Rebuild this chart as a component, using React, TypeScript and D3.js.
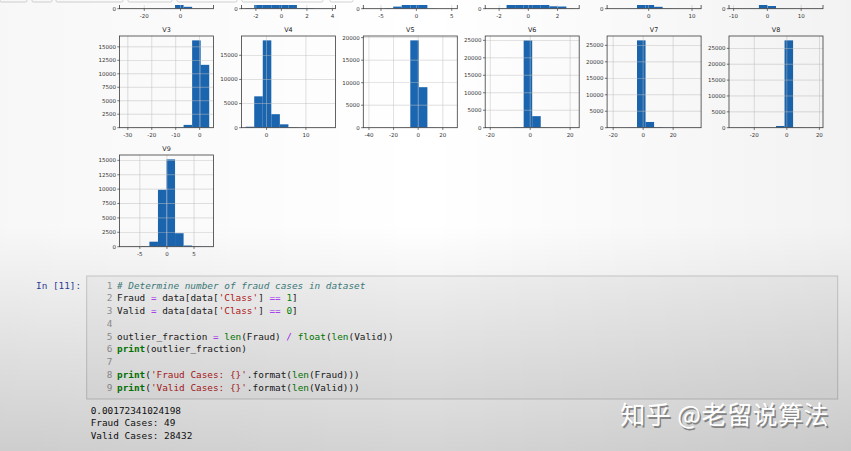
import React from 'react';
import * as d3 from 'd3';

// ---------- histogram data (pandas DataFrame.hist grid, partially visible) ----------
const histNames = ['V23', 'V24', 'V25', 'V26', 'V27', 'V28', 'V3', 'V4', 'V5', 'V6', 'V7', 'V8', 'V9'];
const histMin = [-31.3, -2.8, -6.9, -2.66, -8.6, -10.1, -31.7, -5.3, -41.1, -20.4, -21.2, -32.9, -7.96];
const histMax = [15.8, 3.9, 5.18, 3.19, 11.1, 15.2, 4.0, 16.4, 28.3, 22.4, 35.8, 19.6, 7.8];
const histCounts = [
  [1, 0, 2, 5, 10, 60, 27700, 600, 40, 13],
  [30, 3000, 5200, 5600, 6200, 5800, 40, 30, 8, 2],
  [2, 10, 60, 300, 7000, 12500, 8000, 30, 3, 1],
  [5, 40, 3000, 7000, 8000, 6000, 3500, 220, 200, 20],
  [2, 5, 30, 9000, 18500, 400, 40, 10, 3, 2],
  [3, 10, 80, 26000, 800, 60, 10, 3, 1, 1],
  [1, 2, 3, 5, 8, 15, 60, 520, 16200, 11660],
  [200, 6500, 18100, 2800, 700, 80, 20, 8, 3, 2],
  [1, 2, 3, 5, 30, 19400, 9000, 30, 8, 2],
  [2, 5, 15, 90, 24990, 3300, 60, 10, 4, 2],
  [3, 10, 50, 26520, 1740, 100, 20, 8, 3, 2],
  [2, 3, 5, 10, 30, 540, 27520, 60, 10, 3],
  [3, 20, 80, 870, 9890, 15170, 2340, 200, 60, 10],
];
const histXTicks = [
  [-20, 0], [-2, 0, 2, 4], [-5, 0, 5], [-2, 0, 2], [0, 10], [-10, 0, 10],
  [-30, -20, -10, 0], [0, 10], [-40, -20, 0, 20], [-20, 0, 20], [-20, 0, 20], [-20, 0, 20],
  [-5, 0, 5],
];
const histYTicks = [
  [0, 5000, 10000, 15000, 20000, 25000],
  [0, 2000, 4000, 6000],
  [0, 2500, 5000, 7500, 10000, 12500],
  [0, 2000, 4000, 6000, 8000],
  [0, 5000, 10000, 15000],
  [0, 5000, 10000, 15000, 20000, 25000],
  [0, 2500, 5000, 7500, 10000, 12500, 15000],
  [0, 5000, 10000, 15000],
  [0, 5000, 10000, 15000, 20000],
  [0, 5000, 10000, 15000, 20000, 25000],
  [0, 5000, 10000, 15000, 20000, 25000],
  [0, 5000, 10000, 15000, 20000, 25000],
  [0, 2500, 5000, 7500, 10000, 12500, 15000],
];

// ---------- notebook cell text ----------
const promptLabel = 'In [11]:';
const codeLines: [string, string][][] = [
  [['c', '# Determine number of fraud cases in dataset']],
  [['n', 'Fraud '], ['o', '='], ['n', ' data[data['], ['s', "'Class'"], ['n', '] '], ['o', '=='], ['n', ' '], ['m', '1'], ['n', ']']],
  [['n', 'Valid '], ['o', '='], ['n', ' data[data['], ['s', "'Class'"], ['n', '] '], ['o', '=='], ['n', ' '], ['m', '0'], ['n', ']']],
  [],
  [['n', 'outlier_fraction '], ['o', '='], ['n', ' '], ['b', 'len'], ['n', '(Fraud) '], ['o', '/'], ['n', ' '], ['b', 'float'], ['n', '('], ['b', 'len'], ['n', '(Valid))']],
  [['k', 'print'], ['n', '(outlier_fraction)']],
  [],
  [['k', 'print'], ['n', '('], ['s', "'Fraud Cases: {}'"], ['n', '.format('], ['b', 'len'], ['n', '(Fraud)))']],
  [['k', 'print'], ['n', '('], ['s', "'Valid Cases: {}'"], ['n', '.format('], ['b', 'len'], ['n', '(Valid)))']],
];
const outputLines = ['0.00172341024198', 'Fraud Cases: 49', 'Valid Cases: 28432'];
const watermark = '知乎 @老留说算法';
const toolbarButtons = [[0, 27], [32, 52], [56, 123], [128, 172], [177, 237], [242, 323], [330, 353]];

// ---------- layout ----------
const W = 851, H = 451;
const colLeft0 = 119.5, colStep = 121.9, axW = 94;
const row2Top = 36, rowStep = 119, axH = 91.7;
const stripH = 5; // sticky toolbar strip covering the top of the page
const barColor = '#1b66b1';
const tickFont = 'DejaVu Sans, sans-serif';
const mono = 'DejaVu Sans Mono, Liberation Mono, monospace';

const tokenStyle: Record<string, { fill: string; fontStyle?: string; fontWeight?: string }> = {
  c: { fill: '#408080', fontStyle: 'italic' },
  n: { fill: '#222' },
  o: { fill: '#AA22FF' },
  s: { fill: '#BA2121' },
  m: { fill: '#008800' },
  k: { fill: '#008000', fontWeight: 'bold' },
  b: { fill: '#008000' },
};

const fmtX = (v: number) => String(v); // hyphen-minus as in older matplotlib

function Hist({ i }: { i: number }) {
  const row = i < 6 ? 0 : i < 12 ? 1 : 2;
  const col = i < 6 ? i : i < 12 ? i - 6 : 0;
  const top = row2Top + (row - 1) * rowStep;
  const left = colLeft0 + col * colStep;
  const bottom = top + axH;
  const right = left + axW;
  const mn = histMin[i], mx = histMax[i];
  const d = mx - mn;
  const x = d3.scaleLinear().domain([mn - 0.05 * d, mx + 0.05 * d]).range([left, right]);
  const counts = histCounts[i];
  const y = d3.scaleLinear().domain([0, 1.05 * (d3.max(counts) as number)]).range([bottom, top]);
  const edges = d3.range(11).map((k) => mn + (k * d) / 10);
  const [x0, x1] = x.domain();
  const xt = histXTicks[i].filter((t) => t >= x0 && t <= x1);
  const yt = histYTicks[i];
  const ytLabels = yt.filter((t) => y(t) > stripH);
  const showTitle = top - 3.7 - 6 > 0;
  return (
    <g>
      <rect x={left} y={top} width={axW} height={axH} fill="#fff" />
      {counts.map((c, k) => (
        <rect key={k} x={x(edges[k])} y={y(c)} width={x(edges[k + 1]) - x(edges[k])} height={bottom - y(c)} fill={barColor} />
      ))}
      {xt.map((t) => (
        <line key={'gx' + t} x1={x(t)} x2={x(t)} y1={top} y2={bottom} stroke="#c2c2c2" strokeWidth={0.6} opacity={0.85} />
      ))}
      {yt.map((t) => (
        <line key={'gy' + t} x1={left} x2={right} y1={y(t)} y2={y(t)} stroke="#c2c2c2" strokeWidth={0.6} opacity={0.85} />
      ))}
      <rect x={left} y={top} width={axW} height={axH} fill="none" stroke="#3c3c3c" strokeWidth={0.8} />
      {xt.map((t) => (
        <g key={'tx' + t}>
          <line x1={x(t)} x2={x(t)} y1={bottom} y2={bottom + 2.2} stroke="#3c3c3c" strokeWidth={0.7} />
          <text x={x(t)} y={bottom + 9.3} fontSize={5.5} fontFamily={tickFont} fill="#333" textAnchor="middle">{fmtX(t)}</text>
        </g>
      ))}
      {yt.map((t) => (
        <line key={'tm' + t} x1={left - 2.2} x2={left} y1={y(t)} y2={y(t)} stroke="#3c3c3c" strokeWidth={0.7} />
      ))}
      {ytLabels.map((t) => (
        <text key={'ty' + t} x={left - 3.6} y={y(t) + 1.9} fontSize={5.5} fontFamily={tickFont} fill="#333" textAnchor="end">{String(t)}</text>
      ))}
      {showTitle && (
        <text x={(left + right) / 2} y={top - 3.7} fontSize={6.4} fontFamily={tickFont} fill="#222" textAnchor="middle">{histNames[i]}</text>
      )}
    </g>
  );
}

export default function App() {
  const codeX = 117, lnX = 112.5, line0 = 288.7, lineStep = 12.75, codeSize = 9.4;
  return (
    <svg width={W} height={H} style={{ position: 'absolute', left: 0, top: 0, display: 'block' }} xmlns="http://www.w3.org/2000/svg">
      <defs>
        <linearGradient id="vig" x1="0" y1="0" x2="0" y2="1">
          <stop offset="0" stopColor="#000" stopOpacity={0} />
          <stop offset="0.5" stopColor="#000" stopOpacity={0} />
          <stop offset="1" stopColor="#000" stopOpacity={0.17} />
        </linearGradient>
        <linearGradient id="vigx" x1="0" y1="0" x2="1" y2="0">
          <stop offset="0" stopColor="#000" stopOpacity={0.03} />
          <stop offset="0.5" stopColor="#000" stopOpacity={0} />
          <stop offset="1" stopColor="#000" stopOpacity={0.05} />
        </linearGradient>
      </defs>
      <rect x={0} y={0} width={W} height={H} fill="#fff" />
      {histNames.map((_, i) => <Hist key={i} i={i} />)}

      {/* toolbar strip */}
      <rect x={0} y={0} width={W} height={stripH} fill="#fff" />
      {toolbarButtons.map(([a, b], k) => (
        <rect key={k} x={a} y={-6} width={b - a} height={8} rx={1.5} fill="#fff" stroke="#c8c8c8" strokeWidth={0.8} />
      ))}

      {/* code cell */}
      <text x={36} y={line0} fontSize={codeSize} fontFamily={mono} fill="#303F9F">{promptLabel}</text>
      <rect x={86.7} y={276} width={751} height={123} fill="#f7f7f7" stroke="#cfcfcf" strokeWidth={1} />
      {codeLines.map((toks, li) => (
        <g key={li}>
          <text x={lnX} y={line0 + li * lineStep} fontSize={codeSize} fontFamily={mono} fill="#999" textAnchor="end">{li + 1}</text>
          <text x={codeX} y={line0 + li * lineStep} fontSize={codeSize} fontFamily={mono} style={{ whiteSpace: 'pre' }}>
            {toks.map(([t, s], k) => (
              <tspan key={k} fill={tokenStyle[t].fill} fontStyle={tokenStyle[t].fontStyle} fontWeight={tokenStyle[t].fontWeight}>{s}</tspan>
            ))}
          </text>
        </g>
      ))}
      {outputLines.map((s, k) => (
        <text key={k} x={90.7} y={413.7 + k * 12.5} fontSize={codeSize} fontFamily={mono} fill="#111" style={{ whiteSpace: 'pre' }}>{s}</text>
      ))}

      {/* screen vignette */}
      <rect x={0} y={0} width={W} height={H} fill="url(#vig)" />
      <rect x={0} y={0} width={W} height={H} fill="url(#vigx)" />

      {/* watermark */}
      <text x={830.5} y={425.5} fontSize={25} letterSpacing={0.5} fontFamily="Noto Sans CJK SC, sans-serif" fill="#6a6a6a" opacity={0.75} textAnchor="end">{watermark}</text>
      <text x={829} y={424} fontSize={25} letterSpacing={0.5} fontFamily="Noto Sans CJK SC, sans-serif" fill="#fff" textAnchor="end">{watermark}</text>
    </svg>
  );
}
